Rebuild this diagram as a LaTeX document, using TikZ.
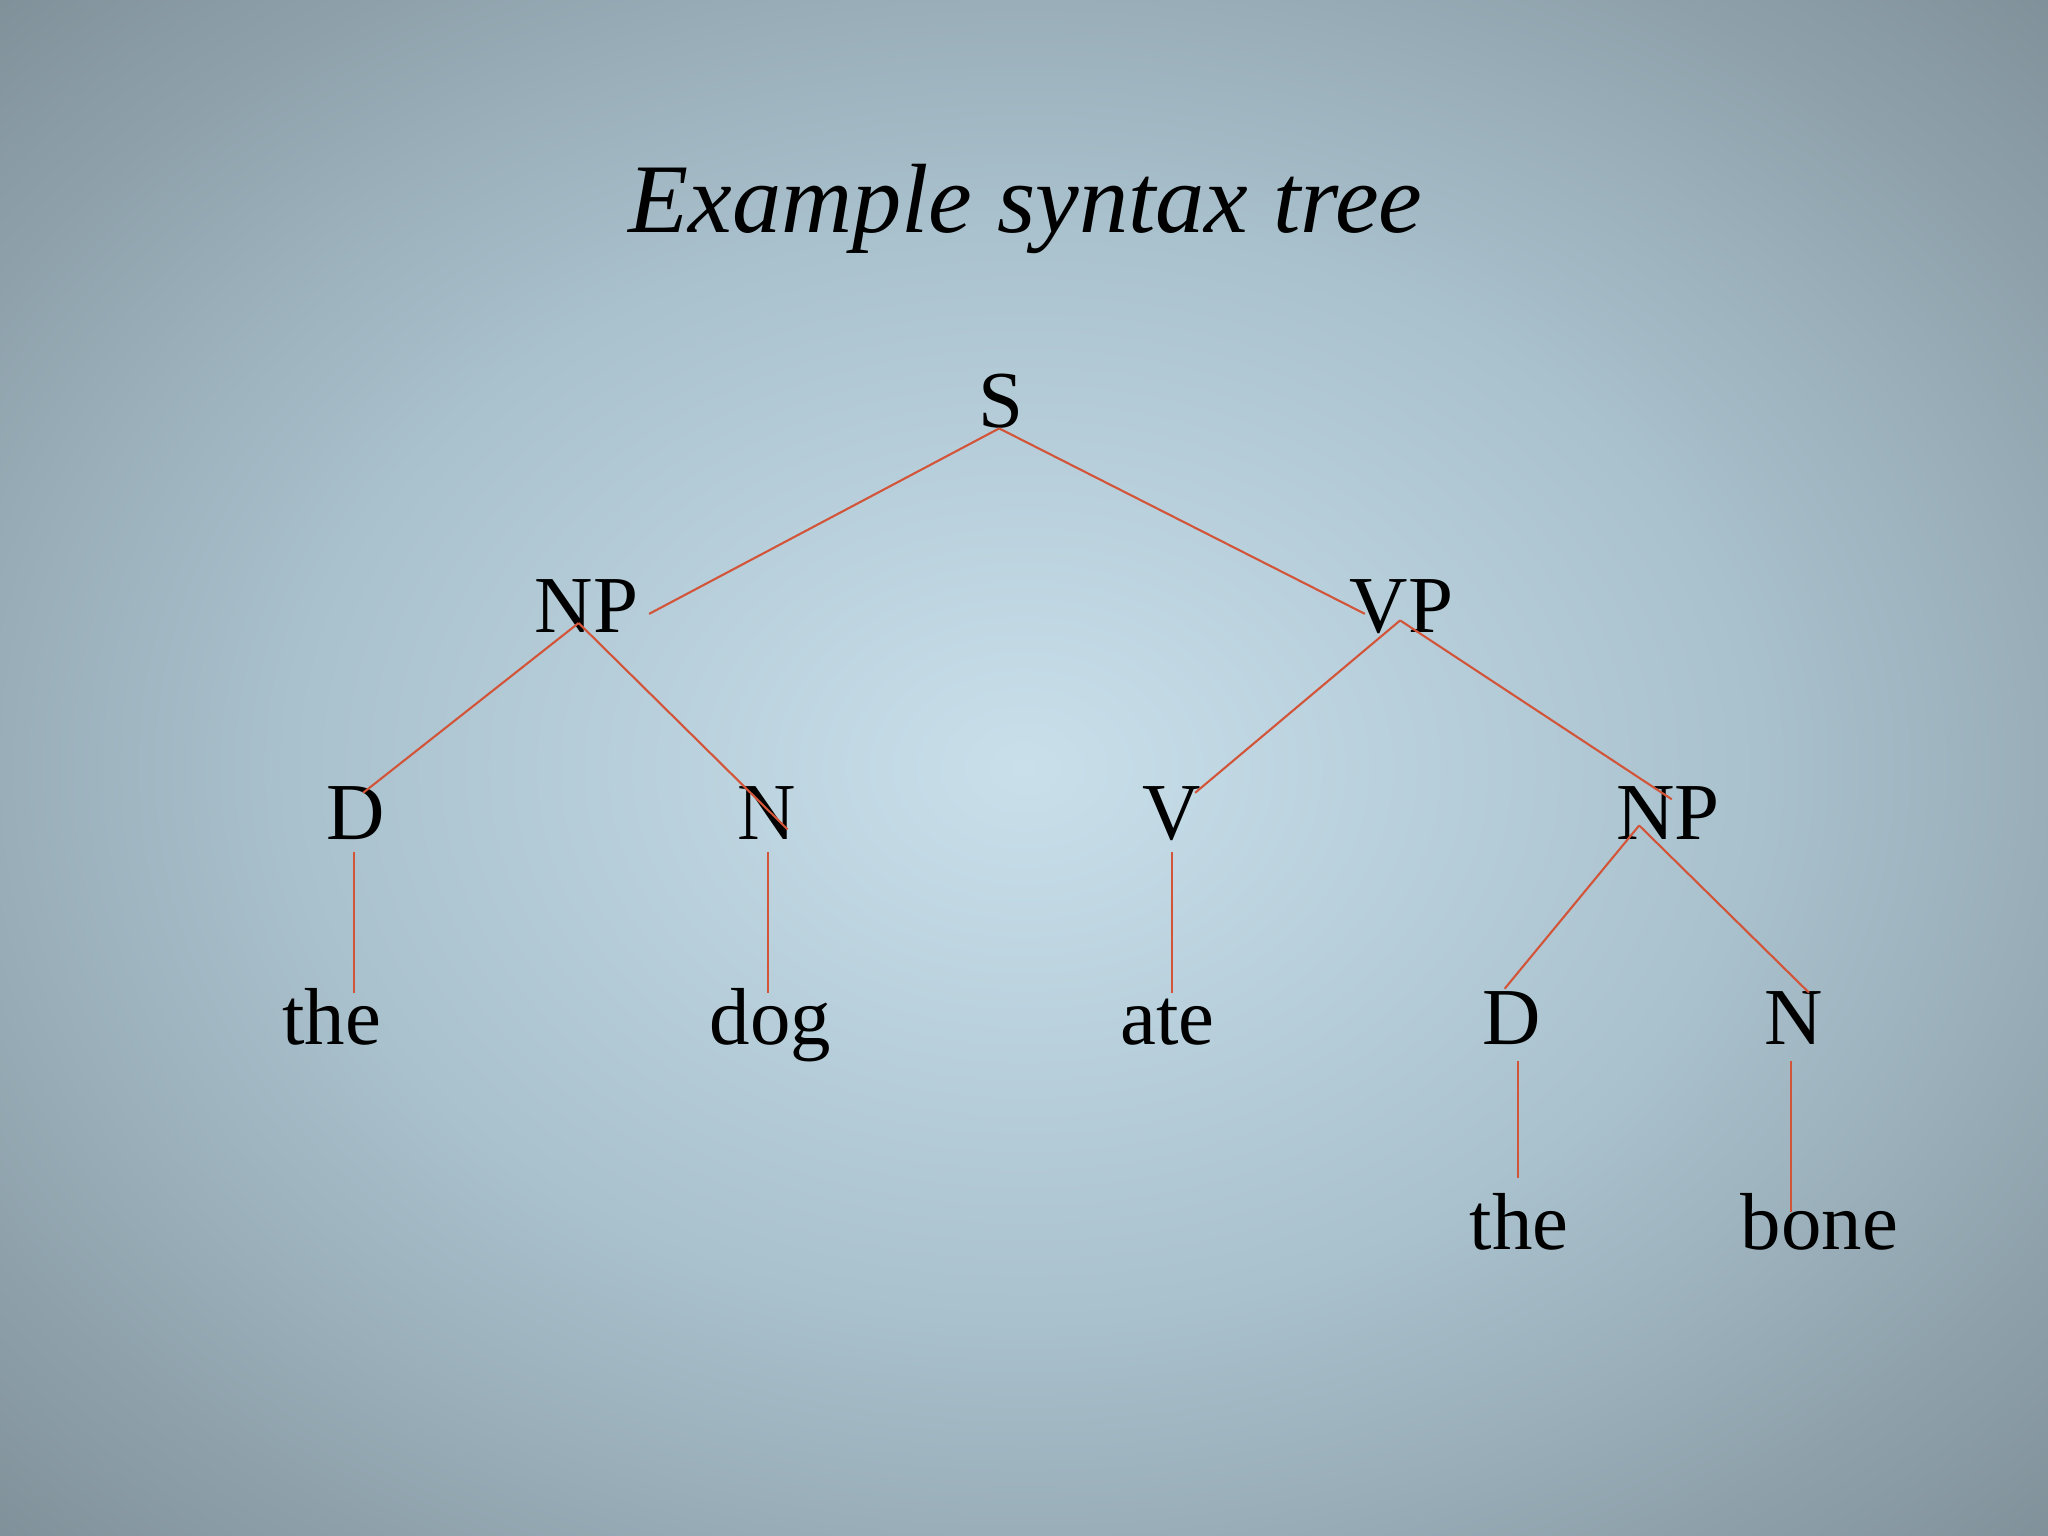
\documentclass[tikz,border=0pt]{standalone}
\usepackage{fontspec}
\setmainfont{Liberation Serif}
\definecolor{bgin}{HTML}{C9E0EB}
\definecolor{bgmid}{HTML}{A9C1CD}
\definecolor{bgedge}{HTML}{7F8F98}
\definecolor{bgout}{HTML}{6A7880}
\definecolor{edge}{HTML}{D2553A}
\pgfdeclareradialshading{slidebg}{\pgfpoint{0bp}{0bp}}{color(0bp)=(bgin); color(18bp)=(bgmid); color(36bp)=(bgedge); color(50bp)=(bgout); color(100bp)=(bgout)}
\begin{document}
\begin{tikzpicture}[x=0.013061cm,y=-0.013061cm,
  lab/.style={font=\fontsize{23}{26}\selectfont, text=black, inner sep=0pt, text height=0.68em, text depth=0.22em, yshift=-5pt},
  br/.style={draw=edge, line width=0.6pt}]
\shade[shading=slidebg] (0,0) rectangle (1568,1176);
\useasboundingbox (0,0) rectangle (1568,1176);
\node[inner sep=0pt,font=\fontsize{28}{32}\selectfont\itshape] (title) at (785,160) {Example syntax tree};
\node[lab] (s) at (766,308) {S};
\node[lab] (np1) at (449,465) {NP};
\node[lab] (vp) at (1073,465) {VP};
\node[lab] (d1) at (272,623) {D};
\node[lab] (n1) at (587,623) {N};
\node[lab] (v) at (897,623) {V};
\node[lab] (np2) at (1277,623) {NP};
\node[lab] (w1) at (254,780) {the};
\node[lab] (w2) at (590,780) {dog};
\node[lab] (w3) at (894,780) {ate};
\node[lab] (d2) at (1157,780) {D};
\node[lab] (n2) at (1373,780) {N};
\node[lab] (w4) at (1163,937) {the};
\node[lab] (w5) at (1393,937) {bone};
\coordinate (sb) at (765,328);
\coordinate (np1t) at (497,470);
\coordinate (vpt) at (1045,470);
\coordinate (np1b) at (443,477);
\coordinate (d1t) at (278,607);
\coordinate (n1t) at (603,635);
\coordinate (vpb) at (1072,475);
\coordinate (vt) at (915,607);
\coordinate (np2t) at (1280,612);
\coordinate (d1b) at (271,652);
\coordinate (w1t) at (271,760);
\coordinate (n1b) at (588,652);
\coordinate (w2t) at (588,760);
\coordinate (vb) at (897,652);
\coordinate (w3t) at (897,760);
\coordinate (np2b) at (1255,632);
\coordinate (d2t) at (1152,757);
\coordinate (n2t) at (1385,760);
\coordinate (d2b) at (1162,812);
\coordinate (w4t) at (1162,902);
\coordinate (n2b) at (1371,812);
\coordinate (w5t) at (1371,928);
\draw[br] (sb) -- (np1t);
\draw[br] (sb) -- (vpt);
\draw[br] (np1b) -- (d1t);
\draw[br] (np1b) -- (n1t);
\draw[br] (vpb) -- (vt);
\draw[br] (vpb) -- (np2t);
\draw[br] (d1b) -- (w1t);
\draw[br] (n1b) -- (w2t);
\draw[br] (vb) -- (w3t);
\draw[br] (np2b) -- (d2t);
\draw[br] (np2b) -- (n2t);
\draw[br] (d2b) -- (w4t);
\draw[br] (n2b) -- (w5t);
\end{tikzpicture}
\end{document}
